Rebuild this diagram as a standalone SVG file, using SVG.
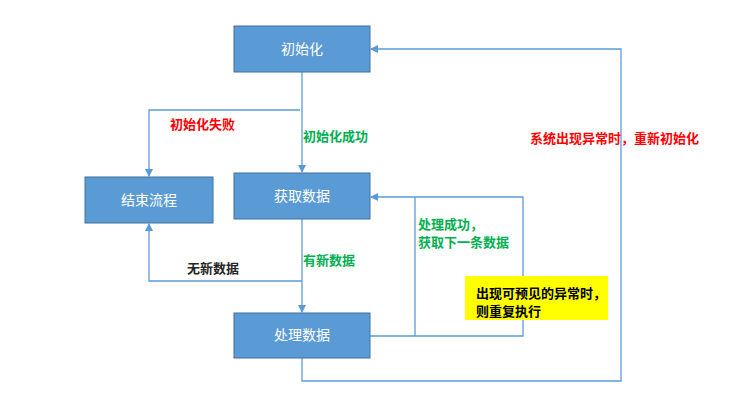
<svg xmlns="http://www.w3.org/2000/svg" width="730" height="408" viewBox="0 0 730 408">
<style>
.n{fill:#5b9bd5;stroke:#41719c;stroke-width:1}
.t{font-family:"Liberation Sans","Noto Sans CJK SC",sans-serif;font-size:14px;fill:#fff;text-anchor:middle;dominant-baseline:central}
.c{fill:none;stroke:#5b9bd5;stroke-width:1.3}
.l{font-family:"Liberation Sans","Noto Sans CJK SC",sans-serif;font-size:13px;font-weight:bold}
.r{fill:#ff0000}.g{fill:#00b050}.k{fill:#262626}
</style>
<defs><marker id="a" markerWidth="8" markerHeight="8" refX="7" refY="4" orient="auto" markerUnits="userSpaceOnUse"><path d="M0,0L8,4L0,8z" fill="#5b9bd5"/></marker></defs>
<rect width="730" height="408" fill="#fff"/>
<g id="connectors">
<path class="c" d="M302,72V172" marker-end="url(#a)"/>
<path class="c" d="M300,110H149V176" marker-end="url(#a)"/>
<path class="c" d="M302,219V312" marker-end="url(#a)"/>
<path class="c" d="M302,281H149V224" marker-end="url(#a)"/>
<path class="c" d="M302,358V381H621V49H371" marker-end="url(#a)"/>
<path class="c" d="M370,336H523V197H371" marker-end="url(#a)"/>
<path class="c" d="M415,197V336"/>
</g>
<g id="init"><rect class="n" x="234" y="26" width="136" height="46"/><text class="t" x="302" y="49">初始化</text></g>
<g id="fetch"><rect class="n" x="234" y="173" width="136" height="46"/><text class="t" x="302" y="196">获取数据</text></g>
<g id="end"><rect class="n" x="85" y="177" width="128" height="46"/><text class="t" x="149" y="200">结束流程</text></g>
<g id="process"><rect class="n" x="234" y="313" width="136" height="45"/><text class="t" x="302" y="335">处理数据</text></g>
<g id="note"><rect x="465" y="276" width="143" height="44" fill="#ffff00"/>
<text class="l k" x="476" y="298" style="fill:#000">出现可预见的异常时，</text><text class="l" x="476" y="316">则重复执行</text></g>
<g id="labels">
<text class="l r" x="170" y="129">初始化失败</text>
<text class="l g" x="303" y="141">初始化成功</text>
<text class="l g" x="303" y="265">有新数据</text>
<text class="l k" x="187" y="273">无新数据</text>
<text class="l g" x="418" y="229">处理成功，</text>
<text class="l g" x="418" y="247">获取下一条数据</text>
<text class="l r" x="530" y="143">系统出现异常时，重新初始化</text>
</g>
</svg>
